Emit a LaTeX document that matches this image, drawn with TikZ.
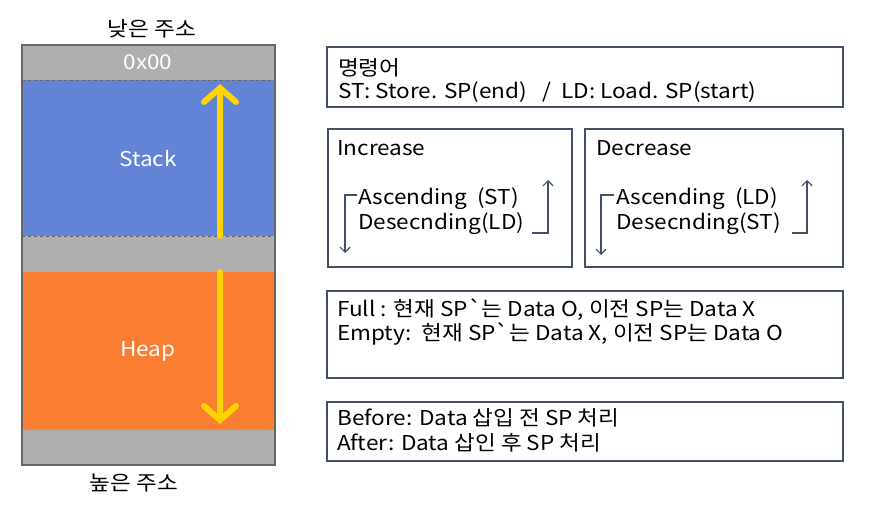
\documentclass[tikz,border=0pt]{standalone}
\usepackage{fontspec}
\setmainfont[FakeStretch=1.1]{Noto Sans CJK KR}
\newfontfamily\krplain[FakeStretch=1.1]{Noto Sans CJK KR}
\usetikzlibrary{arrows.meta}
\definecolor{bluefill}{HTML}{6283D6}
\definecolor{orangefill}{HTML}{FA7E32}
\definecolor{grayfill}{HTML}{AFAFAF}
\definecolor{frame}{HTML}{44506A}
\definecolor{gold}{HTML}{FFD400}
\newcommand{\btick}{{\krplain`}}
\tikzset{x=1pt,y=-1pt,
 mem/.style={draw=black!60,line width=1.2pt},
 infobox/.style={draw=frame,line width=1.5pt},
 txt/.style={anchor=west,inner sep=0,font=\fontsize{20.5}{23}\selectfont},
 yarrow/.style={draw=gold,line width=6pt,line cap=round,-{Straight Barb[length=14pt,width=32pt,line cap=round]}},
 small/.style={draw=frame,line width=1.2pt,-{Straight Barb[length=5pt,width=10pt]}}}
\begin{document}
\begin{tikzpicture}
\useasboundingbox (0,0) rectangle (869,506);
\fill[grayfill] (22,45) rectangle (275,80);
\fill[bluefill] (22,80) rectangle (275,236);
\fill[grayfill] (22,236) rectangle (275,272);
\fill[orangefill] (22,272) rectangle (275,430);
\fill[grayfill] (22,430) rectangle (275,465);
\draw[black!60,dashed,line width=0.6pt] (22,80) -- (275,80) (22,236) -- (275,236) (22,80)--(22,236) (275,80)--(275,236);
\draw[mem] (22,45) rectangle (275,465);
\node[font=\fontsize{20.5}{23}\selectfont,text=white] (addr) at (148,62) {0x00};
\node[font=\fontsize{20.5}{23}\selectfont,text=white] (stack) at (148,158) {Stack};
\node[font=\fontsize{20.5}{23}\selectfont,text=white] (heap) at (148,351) {Heap};
\node[font=\fontsize{20.5}{23}\selectfont] (low) at (152,29) {낮은 주소};
\node[font=\fontsize{20.5}{23}\selectfont] (high) at (134,483) {높은 주소};
\coordinate (s1) at (220,236); \coordinate (s2) at (220,84);
\coordinate (h1) at (220,272); \coordinate (h2) at (220,424);
\draw[yarrow] (s1) -- (s2);
\draw[yarrow] (h1) -- (h2);
\draw[infobox] (327,47) rectangle (843,107);
\node[txt] (b1a) at (338,68) {명령어};
\node[txt] (b1b) at (338,92) {ST: Store. SP(end)\ \ \ /\ \ LD: Load. SP(start)};
\draw[infobox] (328,129) rectangle (572,267);
\node[txt] (inc) at (337,148) {Increase};
\node[txt] (ia) at (358,199) {Ascending\ \ (ST)};
\node[txt] (id) at (358,224) {Desecnding(LD)};
\draw[small] (357,195) -- (345,195) -- (345,253);
\draw[small] (532,233) -- (548,233) -- (548,180);
\draw[infobox] (585,129) rectangle (843,267);
\node[txt] (dec) at (596,148) {Decrease};
\node[txt] (da) at (616,199) {Ascending\ \ (LD)};
\node[txt] (dd) at (616,224) {Desecnding(ST)};
\draw[small] (614,195) -- (601,195) -- (601,255);
\draw[small] (792,233) -- (807,233) -- (807,180);
\draw[infobox] (327,291) rectangle (843,378);
\node[txt] (f1) at (337,310) {Full : 현재 SP\btick 는 Data O, 이전 SP는 Data X};
\node[txt] (f2) at (337,334) {Empty:\ \ 현재 SP\btick 는 Data X, 이전 SP는 Data O};
\draw[infobox] (327,402) rectangle (843,461);
\node[txt] (g1) at (337,418) {Before: Data 삽입 전 SP 처리};
\node[txt] (g2) at (337,443) {After: Data 삽인 후 SP 처리};
\end{tikzpicture}
\end{document}
